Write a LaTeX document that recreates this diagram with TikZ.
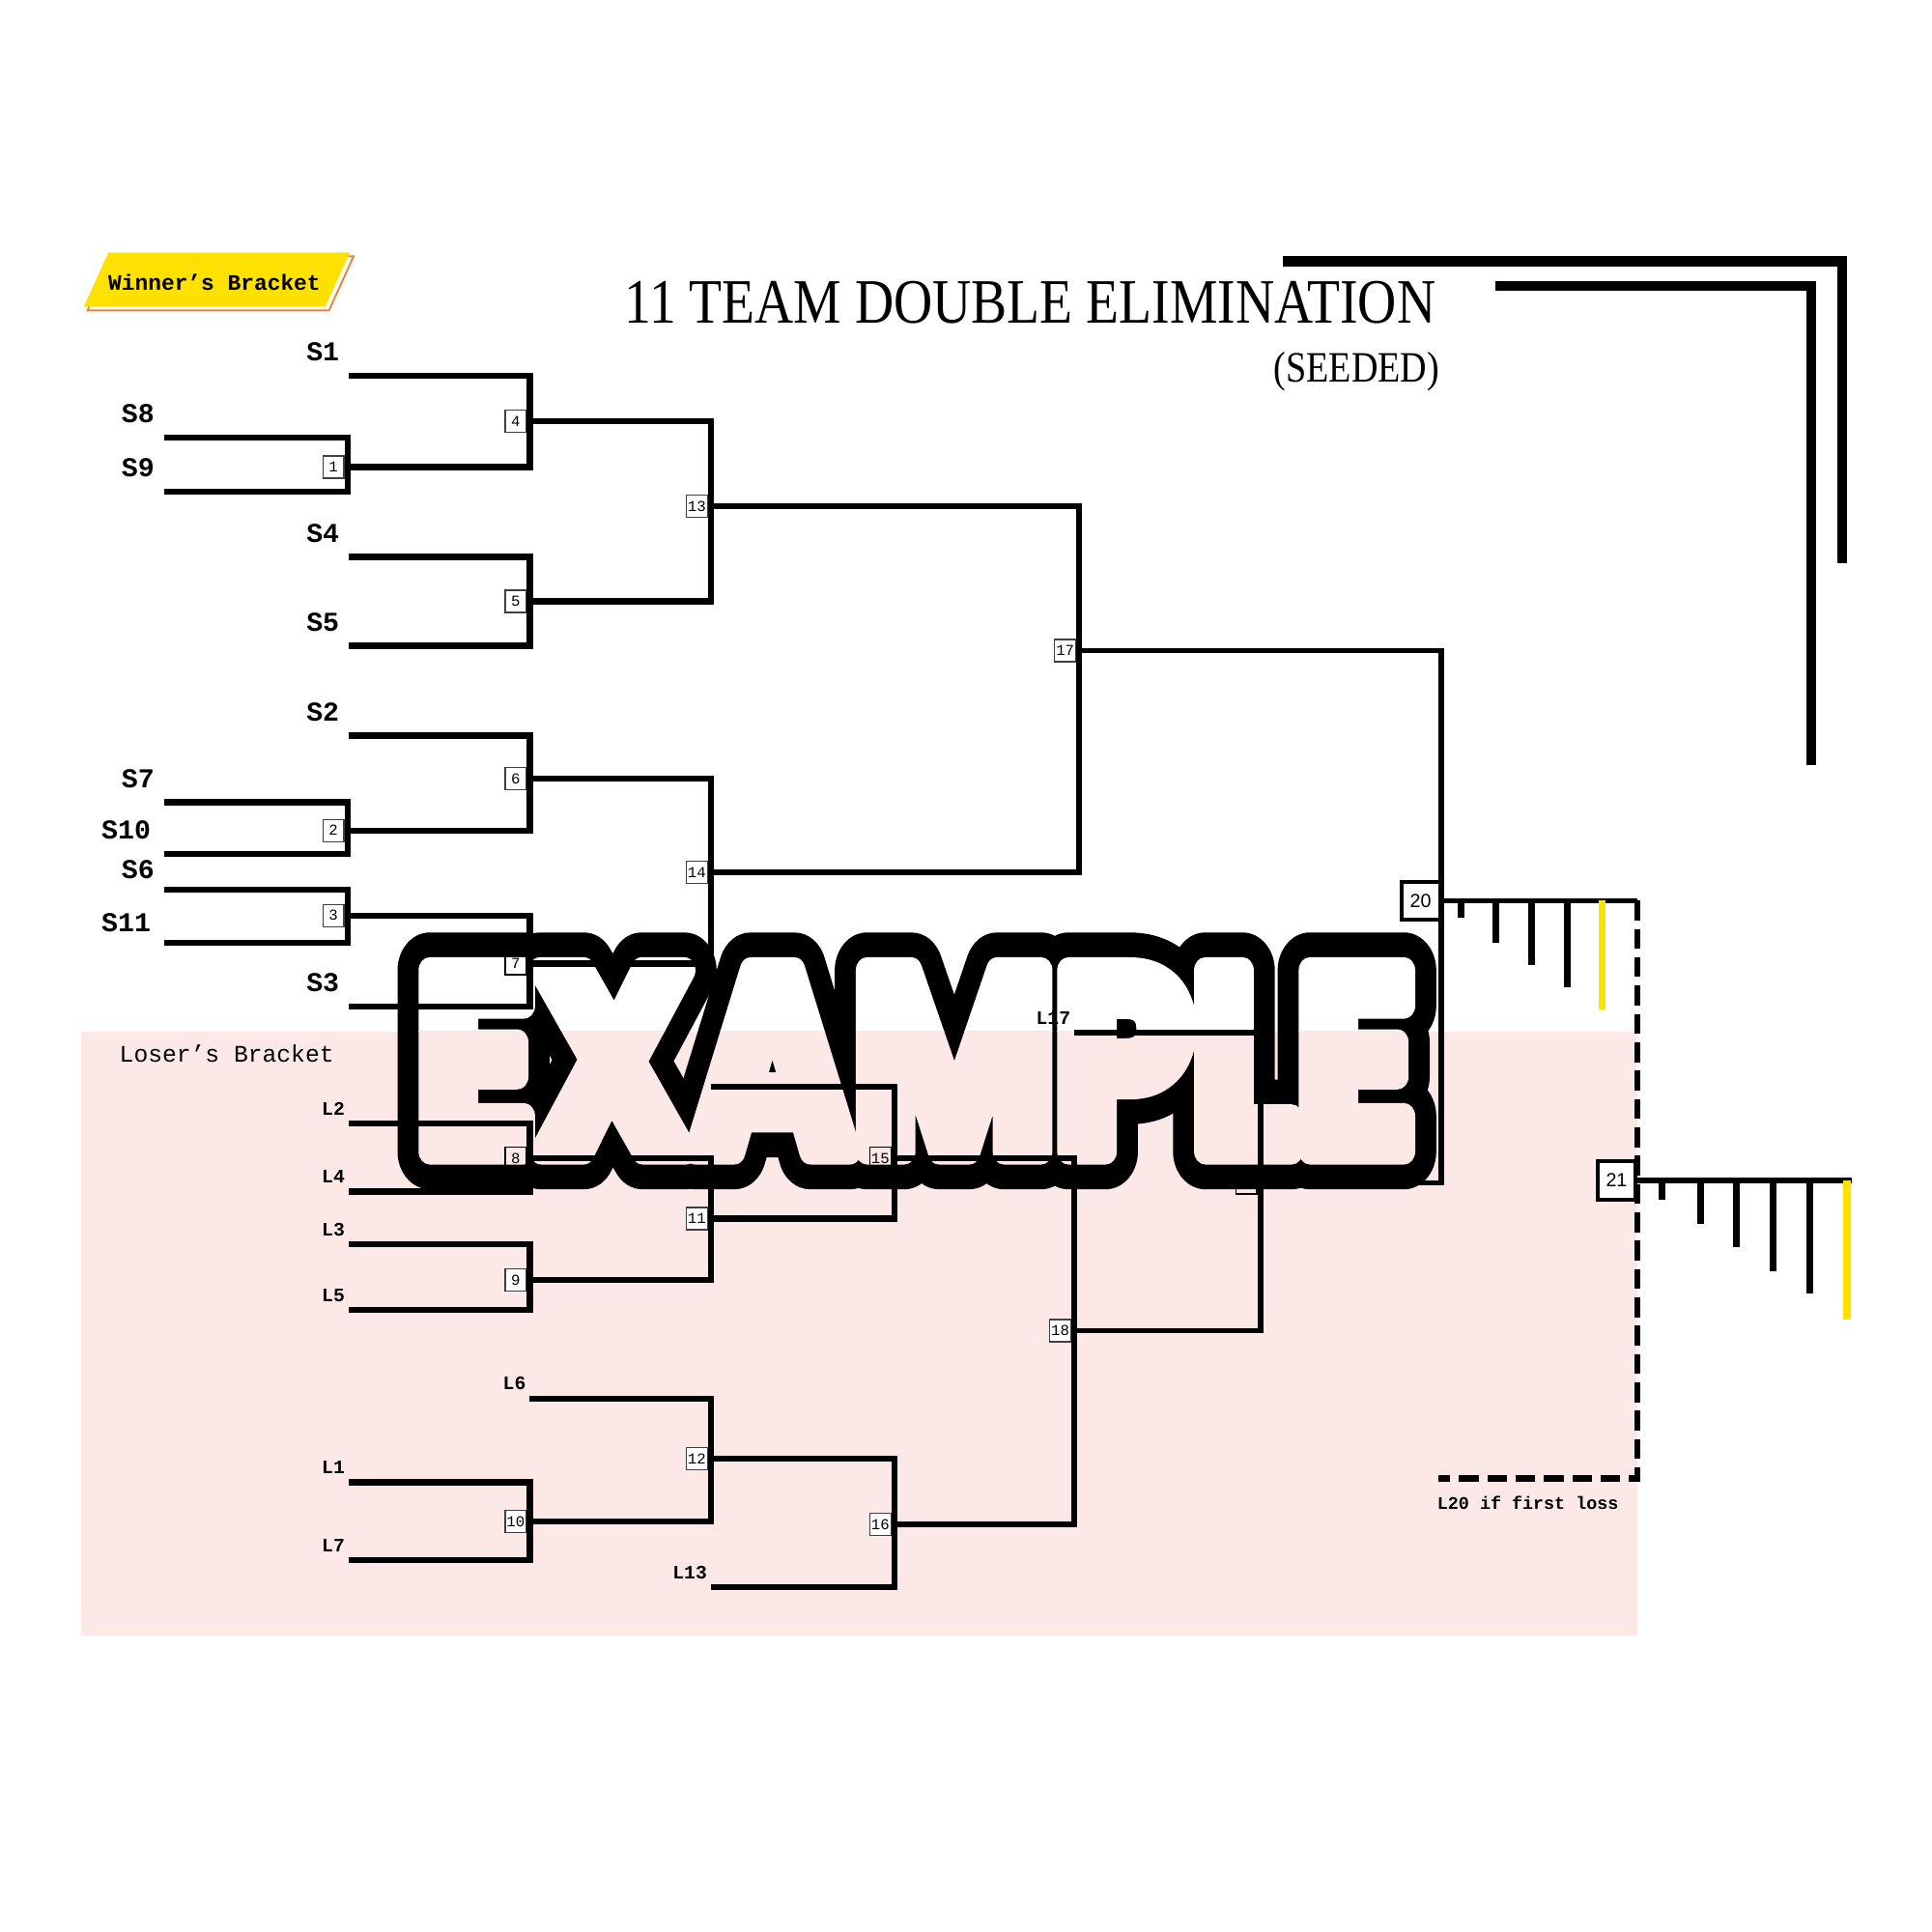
\documentclass[tikz,border=0pt]{standalone}
\usepackage{fontspec}
\usepackage{graphicx}
\setmainfont{Liberation Serif}
\newfontfamily\mono{Liberation Mono}
\newfontfamily\sans{Liberation Sans}
\newfontfamily\titulo[FakeStretch=0.85]{Liberation Serif}
\newfontfamily\marca{Poppins}
\usetikzlibrary{positioning}
\definecolor{amarillo}{HTML}{FFE100}
\definecolor{naranja}{HTML}{E0883A}
\definecolor{rosa}{HTML}{FDE8E8}
%texto con borde: #1 = ancho del trazo (bp)
\newcommand{\trazado}[2]{\special{pdf:literal direct #1 w 1 j 1 J 2 Tr}#2\special{pdf:literal direct 0 Tr}}
\newcommand{\selloborde}{\scalebox{0.85}[1]{\trazado{17.4}{EXAMPLE}}}
\newcommand{\sellohueco}{\scalebox{0.85}[1]{\trazado{6}{EXAMPLE}}}

\begin{document}
\begin{tikzpicture}[x=0.1mm,y=-0.1mm,line join=miter,
    linea/.style={line width=0.5mm},
    finita/.style={line width=0.45mm},
    raya/.style={line width=0.55mm},
    caja/.style={draw=black!75,line width=0.1mm,fill=white,minimum width=1.7mm,minimum height=1.8mm,inner sep=0pt,font=\mono\fontsize{3.5}{4}\selectfont},
    cajota/.style={draw,line width=0.3mm,fill=white,minimum size=3.1mm,inner sep=0pt,font=\sans\fontsize{4.4}{5}\selectfont},
    semilla/.style={inner sep=0pt,font=\mono\bfseries\fontsize{6.3}{7}\selectfont},
    perdedor/.style={inner sep=0pt,font=\mono\bfseries\fontsize{4.4}{5}\selectfont},
    marca/.style={inner sep=0pt,font=\marca\bfseries\fontsize{59.6}{60}\selectfont}] %ojo: y para abajo, todo en "pixeles"
    
    \fill[white] (0,0) rectangle (1568,1568);
    \useasboundingbox (0,0) rectangle (1568,1568);
    \fill[rosa] (66,837) rectangle (1329,1327); %la zona de los perdedores
    
    %El cartelito amarillo
    \draw[naranja,line width=0.15mm] (71,252) -- (91,208) -- (287,208) -- (267,252) -- cycle;
    \fill[amarillo] (68,249) -- (88,205) -- (284,205) -- (264,249) -- cycle;
    \node[inner sep=0pt,font=\mono\bfseries\fontsize{5.1}{6}\selectfont] (wb) at (174,229) {Winner’s Bracket};
    \node[inner sep=0pt,font=\mono\fontsize{5.5}{6}\selectfont] (lb) at (184,855) {Loser’s Bracket};
    
    %Titulo
    \node[inner sep=0pt,anchor=base east,font=\titulo\fontsize{14.6}{16}\selectfont] (tit) at (1166,262) {11 TEAM DOUBLE ELIMINATION};
    \node[inner sep=0pt,anchor=base east,font=\titulo\fontsize{10}{12}\selectfont] (sub) at (1169,310) {(SEEDED)};
    \draw[line width=0.8mm] (1041,212) -| (1495,457); %las esquinas de arriba
    \draw[line width=0.8mm] (1214,232) -| (1470,621);
    
    %Donde arranca cada equipo
    \coordinate (s8) at (133,355); \coordinate (s9) at (133,399);
    \coordinate (s1) at (283,305); \coordinate (s4) at (283,452); \coordinate (s5) at (283,524);
    \coordinate (s2) at (283,597); \coordinate (s7) at (133,651); \coordinate (s10) at (133,693);
    \coordinate (s6) at (133,722); \coordinate (s11) at (133,765); \coordinate (s3) at (283,817);
    \coordinate (l2) at (283,912); \coordinate (l4) at (283,967); \coordinate (l3) at (283,1010); \coordinate (l5) at (283,1063);
    \coordinate (l14) at (577,882); \coordinate (l6) at (430,1135); \coordinate (l1) at (283,1203); \coordinate (l7) at (283,1266);
    \coordinate (l13) at (577,1288); \coordinate (l17) at (872,838);
    
    %Los cruces (donde sale el ganador de cada partido)
    \coordinate (j1) at (282,379); \coordinate (j2) at (282,674); \coordinate (j3) at (282,743);
    \coordinate (j4) at (430,342); \coordinate (j5) at (430,488); \coordinate (j6) at (430,632); \coordinate (j7) at (430,782);
    \coordinate (j13) at (577,411); \coordinate (j14) at (577,708); \coordinate (j17) at (876,528); \coordinate (j20) at (1170,731);
    \coordinate (j8) at (430,940); \coordinate (j9) at (430,1039); \coordinate (j10) at (430,1235);
    \coordinate (j11) at (577,989); \coordinate (j12) at (577,1184); \coordinate (j15) at (726,940); \coordinate (j16) at (726,1237);
    \coordinate (j18) at (872,1080); \coordinate (j19) at (1023,960); \coordinate (j21) at (1329,958);
    \coordinate (e20) at (1329,731); \coordinate (d1) at (1329,1200); \coordinate (d2) at (1167,1200); \coordinate (e21) at (1503,958);
    
    %Llave de ganadores
    \draw[linea] (s8) -| (j1) (s9) -| (j1) (s1) -| (j4) (j1) -| (j4) (s4) -| (j5) (s5) -| (j5);
    \draw[linea] (j4) -| (j13) (j5) -| (j13);
    \draw[linea] (s7) -| (j2) (s10) -| (j2) (s6) -| (j3) (s11) -| (j3);
    \draw[linea] (s2) -| (j6) (j2) -| (j6) (j6) -| (j14);
    \draw[finita] (j13) -| (j17) (j14) -| (j17) (j17) -| (j20) (j20) -- (e20);
    
    %Llave de perdedores
    \draw[linea] (l3) -| (j9) (l5) -| (j9) (j9) -| (j11);
    \draw[linea] (l1) -| (j10) (l7) -| (j10) (l6) -| (j12) (j10) -| (j12) (j12) -| (j16) (l13) -| (j16);
    \draw[finita] (j16) -| (j18) (j18) -| (j19);
    
    %La final y la "por si acaso"
    \draw[line width=0.5mm,dash pattern=on 1.6mm off 0.7mm] (e20) -- (d1) -- (d2);
    \draw[linea] (j21) -- (e21);
    \foreach \x/\y in {1186/745,1214/765,1243/783,1272/801} \draw[raya] (\x,731) -- (\x,\y);
    \draw[raya,amarillo] (1300,731) -- (1300,819);
    \foreach \x/\y in {1349/974,1380/993,1409/1012,1439/1032,1469/1050} \draw[raya] (\x,958) -- (\x,\y);
    \draw[raya,amarillo] (1499,958) -- (1499,1071);
    
    %Cajitas con el numero de partido
    \node[caja,left=0.25mm of j1] (p1) {1};
    \node[caja,left=0.25mm of j2] (p2) {2};
    \node[caja,left=0.25mm of j3] (p3) {3};
    \node[caja,left=0.25mm of j4] (p4) {4};
    \node[caja,left=0.25mm of j5] (p5) {5};
    \node[caja,left=0.25mm of j6] (p6) {6};
    \node[caja,left=0.25mm of j9] (p9) {9};
    \node[caja,left=0.25mm of j10] (p10) {10};
    \node[caja,left=0.25mm of j11] (p11) {11};
    \node[caja,left=0.25mm of j12] (p12) {12};
    \node[caja,left=0.25mm of j13] (p13) {13};
    \node[caja,left=0.25mm of j14] (p14) {14};
    \node[caja,left=0.25mm of j16] (p16) {16};
    \node[caja,left=0.25mm of j17] (p17) {17};
    \node[caja,left=0.25mm of j18] (p18) {18};
    \node[cajota,left=0mm of j20] (p20) {20};
    \node[cajota,left=0mm of j21] (p21) {21};
    
    %Nombres de los equipos
    \node[semilla,above left=1.1mm and 0.7mm of s1] {S1};
    \node[semilla,above left=1.1mm and 0.7mm of s8] {S8};
    \node[semilla,above left=1.1mm and 0.7mm of s9] {S9};
    \node[semilla,above left=1.1mm and 0.7mm of s4] {S4};
    \node[semilla,above left=1.1mm and 0.7mm of s5] {S5};
    \node[semilla,above left=1.1mm and 0.7mm of s2] {S2};
    \node[semilla,above left=1.1mm and 0.7mm of s7] {S7};
    \node[semilla,above left=1.1mm and 1mm of s10] {S10};
    \node[semilla,above left=0.8mm and 0.7mm of s6] {S6};
    \node[semilla,above left=0.8mm and 1mm of s11] {S11};
    \node[semilla,above left=1.1mm and 0.7mm of s3] {S3};
    \node[perdedor,above left=0.6mm and 0.25mm of l2] {L2};
    \node[perdedor,above left=0.6mm and 0.25mm of l4] {L4};
    \node[perdedor,above left=0.6mm and 0.25mm of l3] {L3};
    \node[perdedor,above left=0.6mm and 0.25mm of l5] {L5};
    \node[perdedor,above left=0.6mm and 0.25mm of l6] {L6};
    \node[perdedor,above left=0.6mm and 0.25mm of l1] {L1};
    \node[perdedor,above left=0.6mm and 0.25mm of l7] {L7};
    \node[perdedor,above left=0.6mm and 0.25mm of l13] {L13};
    \node[perdedor,font=\mono\bfseries\fontsize{4.1}{5}\selectfont] (nota) at (1240,1220) {L20 if first loss};
    
    %El sello de EXAMPLE: borde negro gordo y adentro "hueco" (blanco arriba, rosa abajo)
    \node[marca,text=black] (sello) at (743,861) {\selloborde};
    \begin{scope}
        \clip (0,0) rectangle (1568,837);
        \node[marca,text=white] at (sello) {\sellohueco};
    \end{scope}
    \begin{scope}
        \clip (66,837) rectangle (1329,1327);
        \node[marca,text=rosa] at (sello) {\sellohueco};
    \end{scope}
    
    %Lo que pasa por debajo del sello va despues (negro sobre negro no se nota, y se ve por los huecos)
    \draw[linea] (j3) -| (j7) (s3) -| (j7) (j7) -| (j14);
    \draw[linea] (l2) -| (j8) (l4) -| (j8) (j8) -| (j11) (l14) -| (j15) (j11) -| (j15);
    \draw[finita] (j15) -| (j18) (l17) -| (j19) (j19) -| (j20);
    \node[caja,draw=black,fill=none,left=0.25mm of j7] (p7) {7};
    \node[caja,draw=black,fill=none,left=0.25mm of j8] (p8) {8};
    \node[caja,draw=black,fill=none,left=0.25mm of j15] (p15) {15};
    \node[caja,draw=black,fill=none,left=0.25mm of j19] (p19) {19};
    \node[perdedor,above left=0.6mm and 0.25mm of l17] {L17};
    
\end{tikzpicture}
\end{document}
